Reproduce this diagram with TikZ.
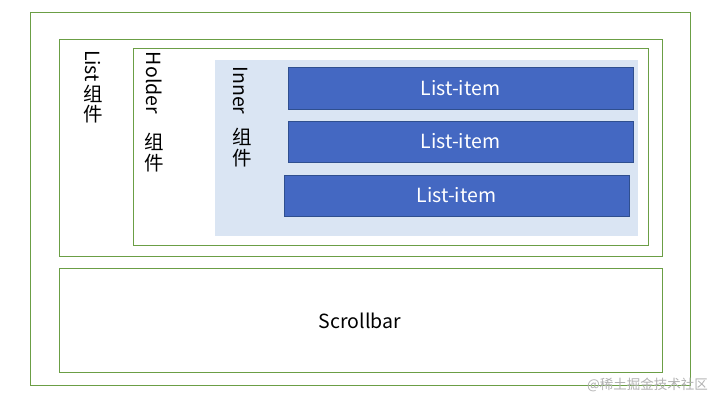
\documentclass[tikz,border=0pt]{standalone}
\usepackage{fontspec}
\setmainfont{Noto Sans CJK SC}
\definecolor{frameg}{HTML}{6B9E45}
\definecolor{itemfill}{HTML}{4468C2}
\definecolor{itemdraw}{HTML}{2F4F8F}
\definecolor{innerfill}{HTML}{DAE5F3}
\begin{document}
\begin{tikzpicture}[x=1pt,y=-1pt,
  gbox/.style={draw=frameg,line width=0.8pt},
  itembox/.style={draw=itemdraw,fill=itemfill,line width=0.8pt},
  itemtext/.style={text=white,font=\fontsize{19.5}{19.5}\selectfont},
  lbl/.style={font=\fontsize{19.5}{19.5}\selectfont,inner sep=0pt},
  wm/.style={text=black!30,font=\fontsize{13.5}{13.5}\selectfont,inner sep=0pt}]
\useasboundingbox (0,0) rectangle (713,400);
\fill[white] (0,0) rectangle (713,400);
% frames
\draw[gbox] (30,12) rectangle (690,385);
\draw[gbox] (59,39) rectangle (662,256);
\draw[gbox] (133,48) rectangle (648,245);
\fill[innerfill] (215,60) rectangle (638,236);
\draw[gbox] (59,268) rectangle (662,372);
% items
\draw[itembox] (288,67) rectangle (633,109);
\draw[itembox] (288,121) rectangle (633,162);
\draw[itembox] (284,175) rectangle (629,216);
\node[itemtext] (i1) at (460.5,88) {List-item};
\node[itemtext] (i2) at (460.5,141.5) {List-item};
\node[itemtext] (i3) at (456.5,195.5) {List-item};
% scrollbar label
\node[lbl] (sb) at (360,321) {Scrollbar};
% vertical labels
\node[lbl,rotate=-90] (l1) at (93,66) {List};
\node[lbl] (l2) at (93,94) {组};
\node[lbl] (l3) at (93,114) {件};
\node[lbl,rotate=-90] (h1) at (154,83) {Holder};
\node[lbl] (h2) at (154,142) {组};
\node[lbl] (h3) at (154,163) {件};
\node[lbl,rotate=-90] (n1) at (241,90.5) {Inner};
\node[lbl] (n2) at (242,137) {组};
\node[lbl] (n3) at (242,158) {件};
% watermark
\node[wm,anchor=east] (wmk) at (708,385) {@稀土掘金技术社区};
\end{tikzpicture}
\end{document}
